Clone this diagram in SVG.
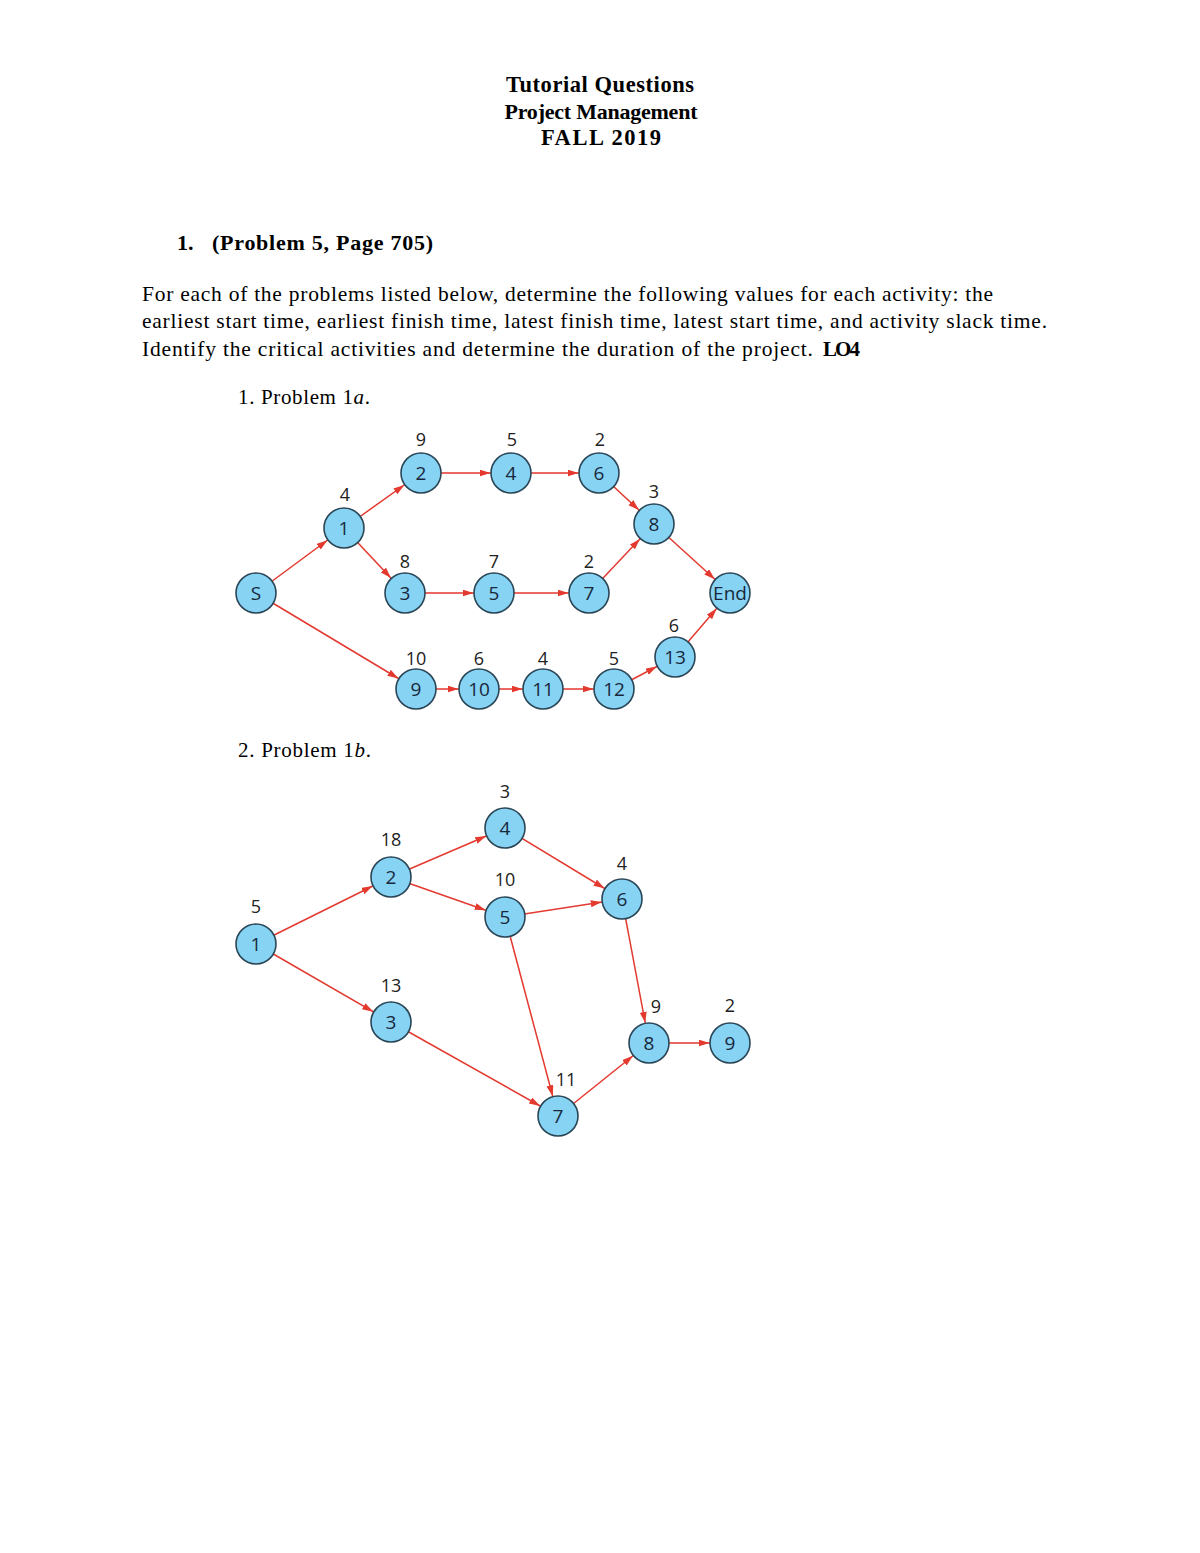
<svg xmlns="http://www.w3.org/2000/svg" width="1200" height="1553" viewBox="0 0 1200 1553">
<style>
.doc{font-family:"Liberation Serif","Times New Roman",serif;fill:#000}
.b{font-weight:bold}
.nd{fill:#87d3f3;stroke:#2a4656;stroke-width:1.6}
.nt{font-family:"Open Sans","Liberation Sans",sans-serif;font-size:19px;font-weight:500;fill:#18283c;text-anchor:middle}
.lb{font-family:"Open Sans","Liberation Sans",sans-serif;font-size:18px;fill:#222;text-anchor:middle}
.ed{stroke:#e3392f;stroke-width:1.5;fill:none;marker-end:url(#ah)}
</style>
<defs>
<marker id="ah" markerUnits="userSpaceOnUse" markerWidth="12" markerHeight="8" refX="31.5" refY="3.5" orient="auto">
<path d="M0,0 L11,3.5 L0,7 z" fill="#e3392f"/>
</marker>
</defs>
<rect width="1200" height="1553" fill="#fff"/>
<g id="header" class="doc">
<text class="b" x="600" y="91.5" font-size="22.5" text-anchor="middle" textLength="188">Tutorial Questions</text>
<text class="b" x="601" y="118.5" font-size="22" text-anchor="middle" textLength="193">Project Management</text>
<text class="b" x="601" y="145" font-size="22.5" text-anchor="middle" textLength="120">FALL 2019</text>
<text class="b" x="177" y="250" font-size="22">1.</text>
<text class="b" x="212" y="250" font-size="22" textLength="221">(Problem 5, Page 705)</text>
<text x="142" y="300.5" font-size="21.5" textLength="851">For each of the problems listed below, determine the following values for each activity: the</text>
<text x="142" y="328" font-size="21.5" textLength="905">earliest start time, earliest finish time, latest finish time, latest start time, and activity slack time.</text>
<text x="142" y="355.5" font-size="21.5" textLength="671">Identify the critical activities and determine the duration of the project.</text>
<text class="b" x="823" y="355.5" font-size="21" textLength="37">LO4</text>
<text x="238" y="403.5" font-size="21" textLength="132">1. Problem 1<tspan font-style="italic">a</tspan>.</text>
<text x="238" y="757" font-size="21" textLength="133">2. Problem 1<tspan font-style="italic">b</tspan>.</text>
</g>
<g id="connectors">
<line class="ed" x1="256" y1="593" x2="344" y2="528"/>
<line class="ed" x1="344" y1="528" x2="421" y2="473"/>
<line class="ed" x1="344" y1="528" x2="405" y2="593"/>
<line class="ed" x1="421" y1="473" x2="511" y2="473"/>
<line class="ed" x1="511" y1="473" x2="599" y2="473"/>
<line class="ed" x1="599" y1="473" x2="654" y2="524"/>
<line class="ed" x1="405" y1="593" x2="494" y2="593"/>
<line class="ed" x1="494" y1="593" x2="589" y2="593"/>
<line class="ed" x1="589" y1="593" x2="654" y2="524"/>
<line class="ed" x1="654" y1="524" x2="730" y2="593"/>
<line class="ed" x1="256" y1="593" x2="416" y2="689"/>
<line class="ed" x1="416" y1="689" x2="479" y2="689"/>
<line class="ed" x1="479" y1="689" x2="543" y2="689"/>
<line class="ed" x1="543" y1="689" x2="614" y2="689"/>
<line class="ed" x1="614" y1="689" x2="675" y2="657"/>
<line class="ed" x1="675" y1="657" x2="730" y2="593"/>
<line class="ed" x1="256" y1="944" x2="391" y2="877"/>
<line class="ed" x1="256" y1="944" x2="391" y2="1022"/>
<line class="ed" x1="391" y1="877" x2="505" y2="828"/>
<line class="ed" x1="391" y1="877" x2="505" y2="917"/>
<line class="ed" x1="505" y1="828" x2="622" y2="899"/>
<line class="ed" x1="505" y1="917" x2="622" y2="899"/>
<line class="ed" x1="505" y1="917" x2="558" y2="1116"/>
<line class="ed" x1="391" y1="1022" x2="558" y2="1116"/>
<line class="ed" x1="622" y1="899" x2="649" y2="1043"/>
<line class="ed" x1="558" y1="1116" x2="649" y2="1043"/>
<line class="ed" x1="649" y1="1043" x2="730" y2="1043"/>
</g>
<g id="a-S"><circle class="nd" cx="256" cy="593" r="20"/><text class="nt" x="256" y="600">S</text></g>
<g id="a-1"><circle class="nd" cx="344" cy="528" r="20"/><text class="nt" x="344" y="535">1</text><text class="lb" x="345" y="501">4</text></g>
<g id="a-2"><circle class="nd" cx="421" cy="473" r="20"/><text class="nt" x="421" y="480">2</text><text class="lb" x="421" y="446">9</text></g>
<g id="a-4"><circle class="nd" cx="511" cy="473" r="20"/><text class="nt" x="511" y="480">4</text><text class="lb" x="512" y="446">5</text></g>
<g id="a-6"><circle class="nd" cx="599" cy="473" r="20"/><text class="nt" x="599" y="480">6</text><text class="lb" x="600" y="446">2</text></g>
<g id="a-8"><circle class="nd" cx="654" cy="524" r="20"/><text class="nt" x="654" y="531">8</text><text class="lb" x="654" y="498">3</text></g>
<g id="a-3"><circle class="nd" cx="405" cy="593" r="20"/><text class="nt" x="405" y="600">3</text><text class="lb" x="405" y="568">8</text></g>
<g id="a-5"><circle class="nd" cx="494" cy="593" r="20"/><text class="nt" x="494" y="600">5</text><text class="lb" x="494" y="568">7</text></g>
<g id="a-7"><circle class="nd" cx="589" cy="593" r="20"/><text class="nt" x="589" y="600">7</text><text class="lb" x="589" y="568">2</text></g>
<g id="a-End"><circle class="nd" cx="730" cy="593" r="20"/><text class="nt" x="730" y="599.5" font-size="17">End</text></g>
<g id="a-9"><circle class="nd" cx="416" cy="689" r="20"/><text class="nt" x="416" y="696">9</text><text class="lb" x="416" y="665">10</text></g>
<g id="a-10"><circle class="nd" cx="479" cy="689" r="20"/><text class="nt" x="479" y="696">10</text><text class="lb" x="479" y="665">6</text></g>
<g id="a-11"><circle class="nd" cx="543" cy="689" r="20"/><text class="nt" x="543" y="696">11</text><text class="lb" x="543" y="665">4</text></g>
<g id="a-12"><circle class="nd" cx="614" cy="689" r="20"/><text class="nt" x="614" y="696">12</text><text class="lb" x="614" y="665">5</text></g>
<g id="a-13"><circle class="nd" cx="675" cy="657" r="20"/><text class="nt" x="675" y="664">13</text><text class="lb" x="674" y="632">6</text></g>
<g id="b-1"><circle class="nd" cx="256" cy="944" r="20"/><text class="nt" x="256" y="951">1</text><text class="lb" x="256" y="913">5</text></g>
<g id="b-2"><circle class="nd" cx="391" cy="877" r="20"/><text class="nt" x="391" y="884">2</text><text class="lb" x="391" y="846">18</text></g>
<g id="b-4"><circle class="nd" cx="505" cy="828" r="20"/><text class="nt" x="505" y="835">4</text><text class="lb" x="505" y="798">3</text></g>
<g id="b-5"><circle class="nd" cx="505" cy="917" r="20"/><text class="nt" x="505" y="924">5</text><text class="lb" x="505" y="886">10</text></g>
<g id="b-6"><circle class="nd" cx="622" cy="899" r="20"/><text class="nt" x="622" y="906">6</text><text class="lb" x="622" y="870">4</text></g>
<g id="b-3"><circle class="nd" cx="391" cy="1022" r="20"/><text class="nt" x="391" y="1029">3</text><text class="lb" x="391" y="992">13</text></g>
<g id="b-7"><circle class="nd" cx="558" cy="1116" r="20"/><text class="nt" x="558" y="1123">7</text><text class="lb" x="566" y="1086">11</text></g>
<g id="b-8"><circle class="nd" cx="649" cy="1043" r="20"/><text class="nt" x="649" y="1050">8</text><text class="lb" x="656" y="1013">9</text></g>
<g id="b-9"><circle class="nd" cx="730" cy="1043" r="20"/><text class="nt" x="730" y="1050">9</text><text class="lb" x="730" y="1012">2</text></g>
</svg>
